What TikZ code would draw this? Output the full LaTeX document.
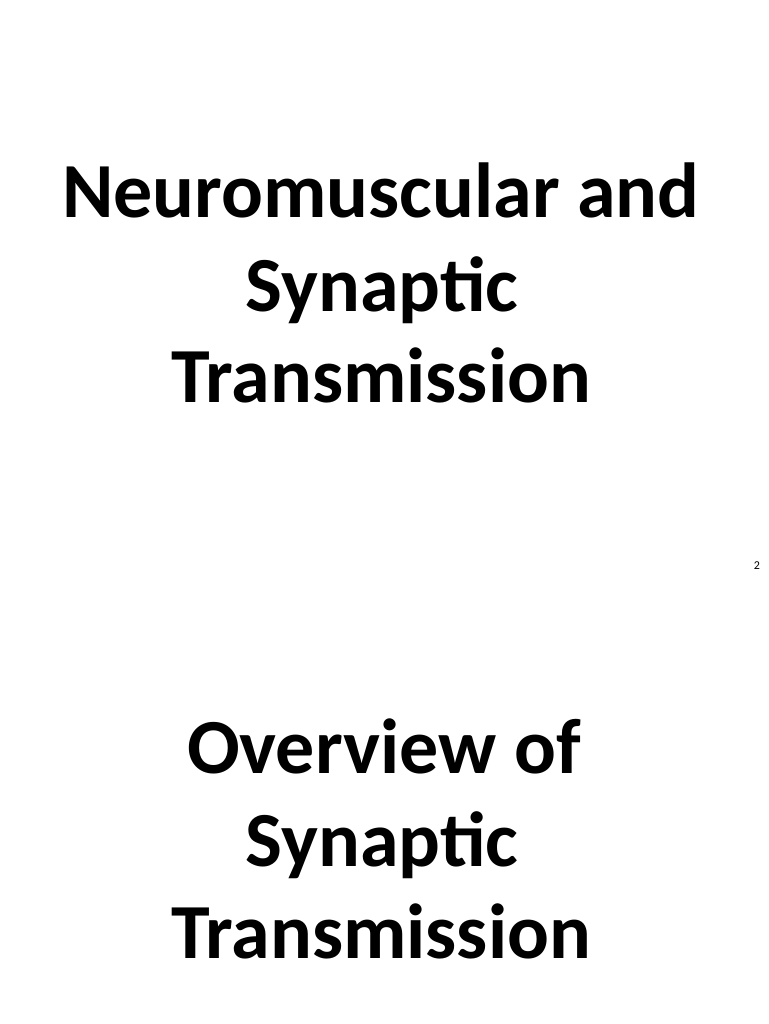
\documentclass[tikz,border=0pt]{standalone}
\usepackage{fontspec}
\setmainfont{Carlito}
\begin{document}
\begin{tikzpicture}[x=1pt,y=-1pt,
      title/.style={anchor=base,inner sep=0pt,font=\bfseries\fontsize{78}{92}\selectfont},
      pagenum/.style={anchor=base,inner sep=0pt,font=\fontsize{12}{14}\selectfont}]
  \useasboundingbox[fill=white] (0,0) rectangle (768,1024);
  % first slide
  \node[title] (t1) at (381,218) {Neuromuscular and};
  \node[title] (t2) at (382,311) {Synaptic};
  \node[title] (t3) at (381,402) {Transmission};
  \node[pagenum] (num) at (757,569) {2};
  % second slide
  \node[title] (o1) at (384,773) {Overview of};
  \node[title] (o2) at (382,866) {Synaptic};
  \node[title] (o3) at (381,958) {Transmission};
\end{tikzpicture}
\end{document}
